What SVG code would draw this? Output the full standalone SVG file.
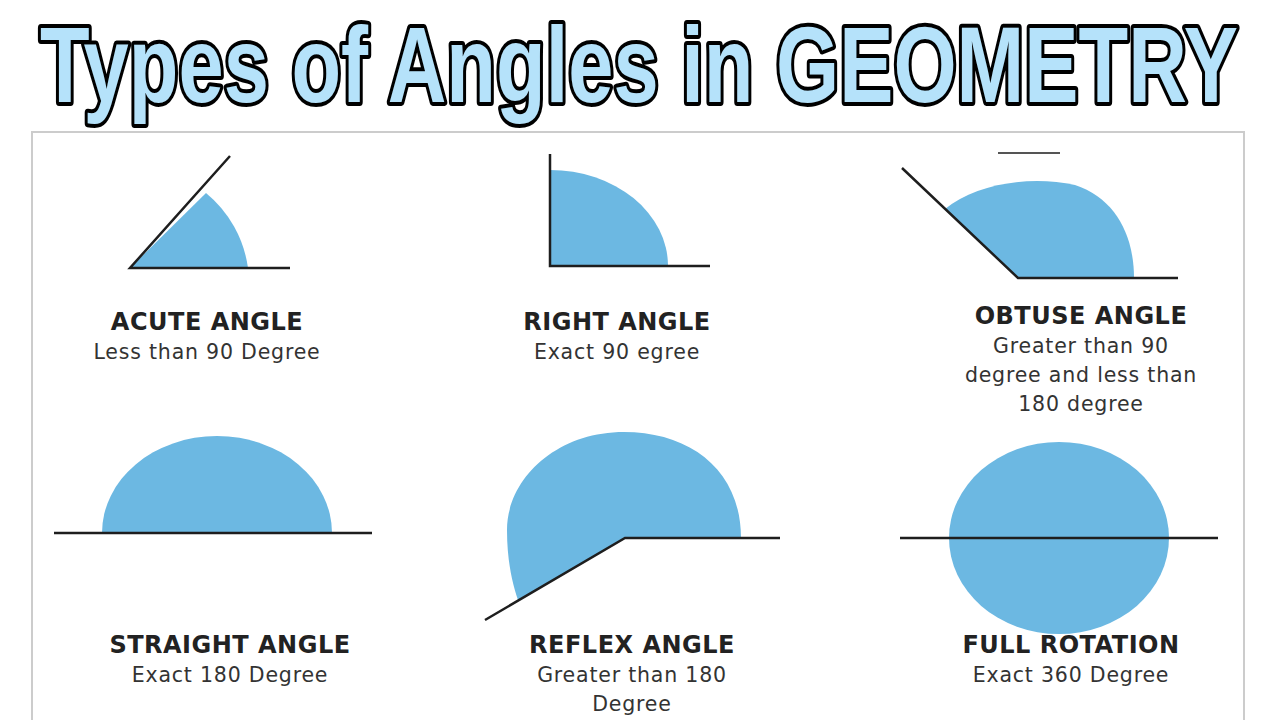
<svg xmlns="http://www.w3.org/2000/svg" width="1280" height="720" viewBox="0 0 1280 720">
<style>
.fill{fill:#6cb8e2}
.ln{stroke:#1e1e1e;stroke-width:2.5;fill:none}
.h{font-family:"DejaVu Sans","Liberation Sans",sans-serif;font-weight:700;font-size:24px;fill:#222;text-anchor:middle;letter-spacing:0.5px}
.s{font-family:"DejaVu Sans","Liberation Sans",sans-serif;font-size:20.5px;fill:#333;text-anchor:middle;letter-spacing:0.8px}
.title{font-family:"Liberation Sans",sans-serif;font-weight:700;font-size:108px;fill:#b5e2fa;stroke:#000;stroke-width:8;paint-order:stroke;stroke-linejoin:round}
</style>
<rect width="1280" height="720" fill="#fff"/>
<rect x="32" y="132" width="1212" height="600" fill="#fff" stroke="#ccc" stroke-width="2"/>
<text class="title" x="40" y="102" textLength="1198" lengthAdjust="spacingAndGlyphs">Types of Angles in GEOMETRY</text>
<line x1="998" y1="153" x2="1060" y2="153" stroke="#555" stroke-width="2"/>
<g id="acute">
<path class="fill" d="M130,268 L206,193 A118,118 0 0 1 248,268 Z"/>
<path class="ln" d="M230,156 L130,268 L290,268"/>
<text class="h" x="207" y="330">ACUTE ANGLE</text>
<text class="s" x="207" y="359">Less than 90 Degree</text>
</g>
<g id="right">
<path class="fill" d="M550,266 L550,170 A118,96 0 0 1 668,266 Z"/>
<path class="ln" d="M550,154 L550,266 L710,266"/>
<text class="h" x="617" y="330">RIGHT ANGLE</text>
<text class="s" x="617" y="359">Exact 90 egree</text>
</g>
<g id="obtuse">
<path class="fill" d="M1018,278 L945,209 C975,184 1030,175 1075,185 C1115,198 1134,235 1134,278 Z"/>
<path class="ln" d="M902,168 L1018,278 L1178,278"/>
<text class="h" x="1081" y="324">OBTUSE ANGLE</text>
<text class="s" x="1081" y="353">Greater than 90</text>
<text class="s" x="1081" y="382">degree and less than</text>
<text class="s" x="1081" y="411">180 degree</text>
</g>
<g id="straight">
<path class="fill" d="M102,533 A115,97 0 0 1 332,533 Z"/>
<path class="ln" d="M54,533 L372,533"/>
<text class="h" x="230" y="653">STRAIGHT ANGLE</text>
<text class="s" x="230" y="682">Exact 180 Degree</text>
</g>
<g id="reflex">
<path class="fill" d="M625,538 L741,538 C741,470 690,432 624,432 C555,432 507,480 507,530 C507,560 512,582 518,600 Z"/>
<path class="ln" d="M485,620 L625,538 L780,538"/>
<text class="h" x="632" y="653">REFLEX ANGLE</text>
<text class="s" x="632" y="682">Greater than 180</text>
<text class="s" x="632" y="711">Degree</text>
</g>
<g id="full">
<ellipse class="fill" cx="1059" cy="538" rx="110" ry="96"/>
<path class="ln" d="M900,538 L1218,538"/>
<text class="h" x="1071" y="653">FULL ROTATION</text>
<text class="s" x="1071" y="682">Exact 360 Degree</text>
</g>
</svg>
